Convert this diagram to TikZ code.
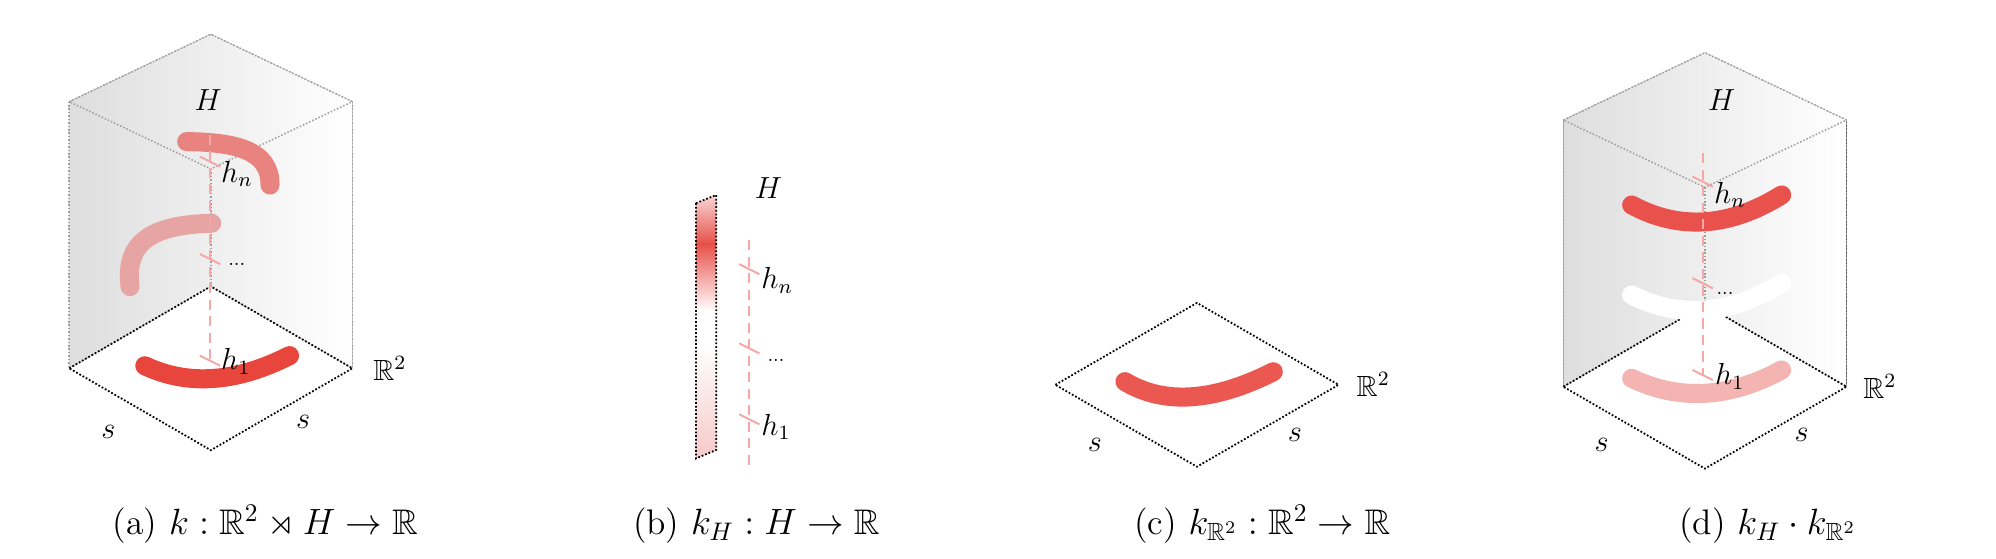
\documentclass[tikz,border=0pt]{standalone}
\usepackage{amsmath,amssymb}
\definecolor{axispink}{HTML}{F5A8A8}
\definecolor{redA}{HTML}{E8453C}
\definecolor{redAn}{HTML}{E8837F}
\definecolor{redAm}{HTML}{E6A4A3}
\definecolor{redC}{HTML}{EB5851}
\definecolor{redDn}{HTML}{E9524C}
\definecolor{redDone}{HTML}{F4B4B2}
\definecolor{barpeak}{HTML}{E8504A}
\definecolor{bartop}{HTML}{F9E2E2}
\definecolor{barbot}{HTML}{F5C6C6}
\tikzset{
  graydot/.style={draw=black!38, line width=0.6pt, dash pattern=on 0.6pt off 0.75pt},
  blackdot/.style={draw=black, line width=0.7pt, dash pattern=on 0.7pt off 0.75pt},
  axisline/.style={draw=axispink, line width=0.8pt, dash pattern=on 4pt off 2.5pt},
  tickmark/.style={draw=axispink, line width=0.8pt},
  kcurve/.style={line width=7.5pt, line cap=round},
  lbl/.style={font=\fontsize{11.5}{13}\selectfont, inner sep=0pt},
  dotslbl/.style={font=\fontsize{7.5}{9}\selectfont, inner sep=0pt},
  captext/.style={font=\fontsize{14}{17}\selectfont, inner sep=0pt, anchor=base},
  wallfill/.style={left color=black!13, right color=white},
}
\newcommand{\wallsbox}[2]{%
  \begin{scope}[shift={(#1,#2)}]
    \fill[wallfill] (-111.5,0) -- (-111.5,-210) -- (0,-263) -- (111.5,-210) -- (111.5,0) -- (0,-64.5) -- cycle;
    \draw[graydot] (-111.5,-210) -- (0,-263) -- (111.5,-210) -- (0,-157) -- cycle;
    \draw[graydot] (-111.5,-210) -- (-111.5,0);
    \draw[graydot] (111.5,-210) -- (111.5,0);
    \draw[graydot] (0,-157) -- (0,-64.5);
  \end{scope}}
\newcommand{\floordiamond}[2]{%
  \begin{scope}[shift={(#1,#2)}]
    \draw[blackdot] (-111.5,0) -- (0,-64.5) -- (111.5,0) -- (0,64.5) -- cycle;
  \end{scope}}
\newcommand{\hticks}[2]{\draw[tickmark] (#1-8,#2-4) -- (#1+8,#2+4);}
\begin{document}
\begin{tikzpicture}[x=0.5pt,y=-0.5pt]
\useasboundingbox (0,0) rectangle (1571.7,439.4);

% ---------------- panel (a)
\wallsbox{166}{290}
\floordiamond{166}{290}
\draw[kcurve, redA] (114,288) .. controls (148,304) and (186,301.3) .. (228,280);
\draw[kcurve, redAn] (147,111.5) .. controls (185,112) and (213,118) .. (212.6,145.7);
\draw[kcurve, redAm] (166.7,175.8) .. controls (120,177) and (98,190) .. (102.4,225.7);
\coordinate (aTop) at (165.4,106);
\coordinate (aBot) at (165.4,284);
\draw[axisline] (aTop) -- (aBot);
\hticks{165.4}{127.3}
\hticks{165.4}{204}
\hticks{165.4}{284}
\node[lbl] (aH) at (164,79) {$H$};
\node[lbl] (ahn) at (186.6,137) {$h_n$};
\node[dotslbl] (adots) at (186.4,208.6) {...};
\node[lbl] (ah1) at (185.7,284.8) {$h_1$};
\node[lbl] (aR) at (307,290) {$\mathbb{R}^2$};
\node[lbl] (as1) at (85.3,340) {$s$};
\node[lbl] (as2) at (238.8,332) {$s$};
\node[captext] (capa) at (209,421) {(a) $k:\mathbb{R}^2\rtimes H\to\mathbb{R}$};

% ---------------- panel (b)
\begin{scope}
  \clip (548,160) -- (564,153.5) -- (564,354.3) -- (548,361) -- cycle;
  \shade[top color=bartop, bottom color=barpeak] (540,150) rectangle (570,192);
  \shade[top color=barpeak, bottom color=white] (540,192) rectangle (570,245);
  \fill[white] (540,245) rectangle (570,272);
  \shade[top color=white, bottom color=barbot] (540,272) rectangle (570,365);
\end{scope}
\draw[blackdot] (548,160) -- (564,153.5) -- (564,354.3) -- (548,361) -- cycle;
\coordinate (bTop) at (590,189);
\coordinate (bBot) at (590,370);
\draw[axisline] (bTop) -- (bBot);
\hticks{590}{212}
\hticks{590}{274.3}
\hticks{590}{330.2}
\node[lbl] (bH) at (605,148.3) {$H$};
\node[lbl] (bhn) at (612,220.8) {$h_n$};
\node[dotslbl] (bdots) at (611,283.5) {...};
\node[lbl] (bh1) at (611,336) {$h_1$};
\node[captext] (capb) at (595.5,421) {(b) $k_H:H\to\mathbb{R}$};

% ---------------- panel (c)
\floordiamond{942.5}{303}
\draw[kcurve, redC] (885.8,300.5) .. controls (916.8,319) and (955.8,316.4) .. (1002.6,292.7);
\node[lbl] (cR) at (1081.3,303) {$\mathbb{R}^2$};
\node[lbl] (cs1) at (862.2,350.4) {$s$};
\node[lbl] (cs2) at (1019.7,342.5) {$s$};
\node[captext] (capc) at (994,421) {(c) $k_{\mathbb{R}^2}:\mathbb{R}^2\to\mathbb{R}$};

% ---------------- panel (d)
\wallsbox{1342.5}{304.5}
\floordiamond{1342.5}{304.5}
\draw[kcurve, redDn] (1284.8,161.4) .. controls (1322.4,181.7) and (1361.8,179) .. (1402.9,153.5);
\draw[kcurve, white] (1284.8,232.3) .. controls (1322.4,251.2) and (1361.8,248.1) .. (1402.9,223);
\draw[kcurve, redDone] (1284.8,297.9) .. controls (1322.4,315.8) and (1361.8,313.6) .. (1402.9,291.3);
\coordinate (dTop) at (1340.7,120.7);
\coordinate (dBot) at (1340.7,295.3);
\draw[axisline] (dTop) -- (dBot);
\hticks{1340.7}{143}
\hticks{1340.7}{223}
\hticks{1340.7}{295.3}
\node[lbl] (dH) at (1355.7,78.7) {$H$};
\node[lbl] (dhn) at (1362.2,153.5) {$h_n$};
\node[dotslbl] (ddots) at (1358.3,231) {...};
\node[lbl] (dh1) at (1362,296.6) {$h_1$};
\node[lbl] (dR) at (1480.3,304.5) {$\mathbb{R}^2$};
\node[lbl] (ds1) at (1261.2,350.4) {$s$};
\node[lbl] (ds2) at (1418.7,342.5) {$s$};
\node[captext] (capd) at (1392,421) {(d) $k_H\cdot k_{\mathbb{R}^2}$};
\end{tikzpicture}
\end{document}
